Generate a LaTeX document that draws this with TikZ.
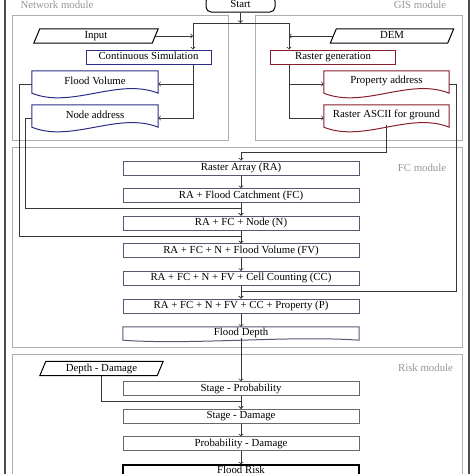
\documentclass[tikz,border=0pt]{standalone}
\usepackage{fontspec}
\setmainfont{Liberation Serif}

\definecolor{netblue}{RGB}{45,45,135}
\definecolor{gisred}{RGB}{135,30,45}
\definecolor{fcslate}{RGB}{85,90,115}
\definecolor{riskgray}{RGB}{105,105,105}
\definecolor{framegray}{RGB}{175,175,175}
\definecolor{labelgray}{RGB}{150,150,150}
\definecolor{linegray}{RGB}{55,55,55}

\newcommand{\boxfont}{\fontsize{10.8}{12}\selectfont}
% parallelogram round a node
\newcommand{\slantbox}[1]{%
  \draw[line width=1pt] ([xshift=-3pt]#1.south west) -- ([xshift=3pt]#1.north west)
    -- ([xshift=3pt]#1.north east) -- ([xshift=-3pt]#1.south east) -- cycle;}
% document shape with a wavy bottom round a node
\newcommand{\wavebox}[4]{%
  \draw[draw=#2, line width=1pt] (#1.north west) -- (#1.north east)
    -- ([yshift=-2pt]#1.south east)
    .. controls +(-#3,-#4) and +(#3,#4) .. ([yshift=-2pt]#1.south west) -- cycle;}

\begin{document}
\begin{tikzpicture}[x=1pt, y=-1pt, font=\boxfont,
    procbox/.style={draw=#1, line width=1pt, minimum width=236pt, minimum height=14pt,
      inner sep=0pt, text height=7pt, text depth=2pt},
    procbox/.default=fcslate,
    smallbox/.style={draw=#1, line width=1pt, minimum width=125pt, minimum height=14pt,
      inner sep=0pt, text height=7pt, text depth=2pt},
    docnode/.style={minimum width=#1, minimum height=20pt, inner sep=0pt},
    ionode/.style={minimum width=#1, minimum height=14pt, inner sep=0pt,
      text height=7pt, text depth=2pt},
    modframe/.style={draw=framegray, line width=1pt},
    modlabel/.style={text=labelgray},
    flowline/.style={draw=linegray, line width=0.8pt},
    >=to]
    \useasboundingbox (0,0) rectangle (474,474);
    \clip (0,0) rectangle (474,474);

    % Outer frame
    \draw[line width=1.3pt, draw=black!70] (5,-10) rectangle (469,490);

    % Module frames and their labels
    \draw[modframe] (12,15) rectangle (228,140);
    \draw[modframe] (255,15) rectangle (462,140);
    \draw[modframe] (12,147) rectangle (462,347);
    \draw[modframe] (12,354) rectangle (462,490);
    \node[modlabel] (netlbl) at (57,5) {Network module};
    \node[modlabel] (gislbl) at (420,5) {GIS module};
    \node[modlabel] (fclbl) at (422,168) {FC module};
    \node[modlabel] (risklbl) at (425.5,368) {Risk module};

    % Start
    \node[draw, rounded corners=5pt, line width=1pt, minimum width=69pt,
      minimum height=16pt, inner sep=0pt] (start) at (240.5,4) {Start};

    % Network module
    \node[ionode=118pt] (input) at (96,36) {Input};
    \slantbox{input}
    \node[smallbox=netblue] (sim) at (148.5,57) {Continuous Simulation};
    \node[docnode=126pt] (vol) at (95,81) {Flood Volume};
    \wavebox{vol}{netblue}{40}{16}
    \node[docnode=126pt] (addr) at (95,115) {Node address};
    \wavebox{addr}{netblue}{40}{16}

    % GIS module
    \node[ionode=117pt] (dem) at (392,36) {DEM};
    \slantbox{dem}
    \node[smallbox=gisred] (rgen) at (333,57) {Raster generation};
    \node[docnode=125pt] (prop) at (386.5,81) {Property address};
    \wavebox{prop}{gisred}{40}{16}
    \node[docnode=125pt] (ascii) at (386.5,115) {Raster ASCII for ground};
    \wavebox{ascii}{gisred}{40}{16}

    % FC module
    \node[procbox] (ra) at (241,168) {Raster Array (RA)};
    \node[procbox] (fc) at (241,195.6) {RA + Flood Catchment (FC)};
    \node[procbox] (fcn) at (241,223.2) {RA + FC + Node (N)};
    \node[procbox] (fv) at (241,250.8) {RA + FC + N + Flood Volume (FV)};
    \node[procbox] (cc) at (241,278.4) {RA + FC + N + FV + Cell Counting (CC)};
    \node[procbox] (pp) at (241,306) {RA + FC + N + FV + CC + Property (P)};
    \node[docnode=236pt, minimum height=11pt] (depth) at (241,332.5) {Flood Depth};
    \wavebox{depth}{fcslate}{70}{5}

    % Risk module
    \node[ionode=117pt] (dd) at (101.5,368.5) {Depth - Damage};
    \slantbox{dd}
    \node[procbox=riskgray] (sp) at (241,388.7) {Stage - Probability};
    \node[procbox=riskgray] (sd) at (241,416.3) {Stage - Damage};
    \node[procbox=riskgray] (pd) at (241,443.9) {Probability - Damage};
    \node[procbox=black, line width=1.3pt, text depth=5pt] (risk) at (241,472) {Flood Risk};

    % Connectors from Start
    \coordinate (jl) at (193,23);
    \coordinate (jr) at (289,23);
    \draw[flowline,->] (start.south) -- (start.south |- jl);
    \draw[flowline] (jl) -- (jr);
    \draw[flowline,->] (jl) -- (jl |- sim.north);
    \draw[flowline,->] (jr) -- (jr |- rgen.north);
    \draw[flowline,->] (input.east) -- (input.east -| jl);
    \draw[flowline,->] (dem.west) -- (dem.west -| jr);
    \draw[flowline,->] (sim.south -| jl) |- ([yshift=-3pt]vol.east);
    \draw[flowline,->] (sim.south -| jl) |- ([yshift=-3pt]addr.east);
    \draw[flowline,->] (rgen.south -| jr) |- ([yshift=-3pt]prop.west);
    \draw[flowline,->] (rgen.south -| jr) |- ([yshift=-3pt]ascii.west);

    % Module outputs into the FC chain
    \draw[flowline,->] ([yshift=-3pt]addr.west) -- ++(-6,0) |- ([yshift=7pt]fcn.north) -- (fcn.north);
    \draw[flowline,->] ([yshift=-3pt]vol.west) -- ++(-12,0) |- ([yshift=7pt]fv.north) -- (fv.north);
    \draw[flowline,->] (ascii.south) |- ([yshift=8pt]ra.north) -- (ra.north);
    \draw[flowline,->] ([yshift=-3pt]prop.east) -- ++(7,0) |- ([yshift=7pt]pp.north) -- (pp.north);
    \draw[flowline,->] (dd.south) |- ([yshift=7pt]sd.north) -- (sd.north);

    % Main chain
    \foreach \a/\b in {ra/fc, fc/fcn, fcn/fv, fv/cc, cc/pp, pp/depth, depth/sp, sp/sd, sd/pd, pd/risk}
        \draw[flowline,->] (\a.south) -- (\b.north);
\end{tikzpicture}
\end{document}
